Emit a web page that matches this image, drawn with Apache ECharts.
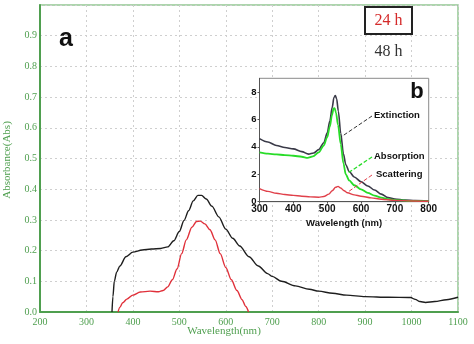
<!DOCTYPE html>
<html>
<head>
<meta charset="utf-8">
<script src="https://cdn.jsdelivr.net/npm/echarts@6/dist/echarts.min.js"></script>
<style>
  html, body { margin: 0; padding: 0; background: #fff; }
  #chart { width: 474px; height: 344px; }
</style>
</head>
<body>
<div id="chart"></div>
<script>
// Panel a: UV-Vis absorbance spectra (wavelength nm, absorbance)
const spectrum24h = [
  [368,0],[372,0.015],[378,0.03],[387,0.042],[400,0.055],[416,0.065],[437,0.068],[455,0.066],
  [465,0.07],[475,0.082],[485,0.105],[495,0.14],[505,0.19],[515,0.235],[527,0.276],[537,0.295],
  [545,0.296],[555,0.287],[566,0.268],[577,0.235],[588,0.19],[600,0.145],[612,0.105],[624,0.07],
  [635,0.04],[643,0.018],[649,0]
];
const spectrum48h = [
  [355,0],[357,0.05],[360,0.1],[365,0.13],[372,0.15],[385,0.18],[400,0.195],[420,0.202],
  [440,0.205],[460,0.207],[475,0.212],[488,0.232],[500,0.262],[510,0.298],[520,0.33],[530,0.362],
  [540,0.38],[548,0.38],[558,0.368],[570,0.345],[585,0.31],[600,0.27],[615,0.24],[630,0.215],
  [650,0.18],[670,0.15],[690,0.125],[700,0.116],[720,0.1],[750,0.085],[780,0.074],[800,0.068],
  [830,0.061],[860,0.055],[900,0.05],[950,0.048],[998,0.047],[1008,0.041],[1018,0.034],
  [1030,0.031],[1050,0.034],[1075,0.04],[1100,0.048]
];
// Panel b: calculated extinction / absorption / scattering spectra
const extinction = [
  [300,4.6],[325,4.35],[350,4.1],[375,3.95],[400,3.85],[425,3.65],[445,3.47],[460,3.55],
  [475,3.8],[490,4.3],[500,5.0],[508,5.9],[515,6.9],[520,7.6],[524,7.75],[528,7.5],[533,6.6],
  [540,5.0],[548,3.5],[555,2.7],[565,2.2],[580,1.8],[600,1.45],[620,1.15],[640,0.85],
  [660,0.55],[680,0.3],[700,0.2],[730,0.12],[760,0.08],[800,0.05]
];
const absorption = [
  [300,3.6],[325,3.5],[350,3.45],[375,3.4],[400,3.35],[425,3.28],[442,3.2],[458,3.3],
  [475,3.6],[490,4.1],[500,4.7],[508,5.5],[514,6.3],[519,6.8],[522,6.82],[526,6.5],[532,5.6],
  [540,4.2],[548,2.8],[555,2.0],[565,1.55],[580,1.2],[600,0.9],[620,0.65],[640,0.45],
  [660,0.3],[680,0.18],[700,0.12],[740,0.06],[800,0.03]
];
const scattering = [
  [300,0.95],[325,0.75],[350,0.62],[375,0.52],[400,0.46],[425,0.4],[450,0.35],[475,0.33],
  [490,0.38],[505,0.55],[515,0.8],[525,1.05],[532,1.12],[540,1.0],[550,0.8],[560,0.65],
  [580,0.5],[600,0.4],[630,0.28],[660,0.18],[700,0.1],[750,0.05],[800,0.03]
];
const legendLabels = ['24 h', '48 h'];
const insetNames = ['Extinction', 'Absorption', 'Scattering'];

const green = '#4f9f4f';
const serif = 'Liberation Serif';
const sans = 'Liberation Sans';

const chart = echarts.init(document.getElementById('chart'), null, { renderer: 'canvas' });

function line(name, data, color, width, xi, z) {
  return {
    type: 'line', name, data, xAxisIndex: xi, yAxisIndex: xi,
    showSymbol: false, smooth: 0.3, smoothMonotone: 'x', z,
    lineStyle: { color, width }, animation: false
  };
}

chart.setOption({
  animation: false,
  backgroundColor: '#fff',
  grid: [
    { left: 40, right: 16, top: 5, bottom: 32, show: true,
      borderColor: '#93c793', borderWidth: 1.5, backgroundColor: 'transparent' },
    { left: 259.5, right: 45.3, top: 78.3, bottom: 142.3, show: true, z: 3,
      borderColor: '#8a8a8a', borderWidth: 1, backgroundColor: '#fff' }
  ],
  xAxis: [
    { type: 'value', gridIndex: 0, min: 200, max: 1100, interval: 100,
      axisLine: { show: true, onZero: false, lineStyle: { color: green, width: 2 } },
      axisTick: { show: false },
      axisLabel: { color: green, fontFamily: serif, fontSize: 10, margin: 5,
        formatter: v => String(v) },
      splitLine: { show: true, lineStyle: { color: '#cfcfcf', type: [2, 3], width: 1 } } },
    { type: 'value', gridIndex: 1, min: 300, max: 800, interval: 100, z: 4,
      name: 'Wavelength (nm)', nameLocation: 'middle', nameGap: 17,
      nameTextStyle: { color: '#111', fontFamily: sans, fontWeight: 'bold', fontSize: 9.5 },
      axisLine: { show: true, onZero: false, lineStyle: { color: '#555', width: 1 } },
      axisTick: { show: true, length: 2, lineStyle: { color: '#555' } },
      axisLabel: { color: '#111', fontFamily: sans, fontWeight: 'bold', fontSize: 10, margin: 3 },
      splitLine: { show: false } }
  ],
  yAxis: [
    { type: 'value', gridIndex: 0, min: 0, max: 1, interval: 0.1,
      axisLine: { show: true, onZero: false, lineStyle: { color: green, width: 2 } },
      axisTick: { show: false },
      axisLabel: { color: green, fontFamily: serif, fontSize: 10, margin: 3, showMaxLabel: false,
        formatter: v => v.toFixed(1) },
      splitLine: { show: true, lineStyle: { color: '#cfcfcf', type: [2, 3], width: 1 } } },
    { type: 'value', gridIndex: 1, min: 0, max: 9, interval: 2, z: 4,
      axisLine: { show: true, onZero: false, lineStyle: { color: '#555', width: 1 } },
      axisTick: { show: true, length: 2, lineStyle: { color: '#555' } },
      axisLabel: { color: '#111', fontFamily: sans, fontWeight: 'bold', fontSize: 9.5, margin: 3,
        showMaxLabel: false },
      splitLine: { show: false } }
  ],
  series: [
    line(legendLabels[1], spectrum48h, '#1e1e1e', 1.4, 0, 2),
    line(legendLabels[0], spectrum24h, '#e0303a', 1.4, 0, 2),
    line(insetNames[0], extinction, '#3a3a48', 1.6, 1, 6),
    line(insetNames[1], absorption, '#28dc28', 1.8, 1, 6),
    line(insetNames[2], scattering, '#e0404a', 1.4, 1, 6)
  ],
  graphic: [
    // axis titles of panel a
    { type: 'text', x: 224, y: 331, z: 10,
      style: { text: 'Wavelength(nm)', fill: green, font: '11px "Liberation Serif"',
        align: 'center', verticalAlign: 'middle' } },
    { type: 'text', x: 7, y: 160, rotation: Math.PI / 2, z: 10,
      style: { text: 'Absorbance(Abs)', fill: green, font: '11px "Liberation Serif"',
        align: 'center', verticalAlign: 'middle' } },
    // panel letters
    { type: 'text', x: 66, y: 39, z: 10,
      style: { text: 'a', fill: '#111', font: 'bold 25px "Liberation Sans"',
        align: 'center', verticalAlign: 'middle' } },
    { type: 'text', x: 417, y: 92, z: 10,
      style: { text: 'b', fill: '#111', font: 'bold 22px "Liberation Sans"',
        align: 'center', verticalAlign: 'middle' } },
    // legend
    { type: 'rect', z: 10, shape: { x: 365, y: 7, width: 47, height: 27 },
      style: { fill: '#fff', stroke: '#222', lineWidth: 2 } },
    { type: 'text', x: 388.5, y: 21, z: 11,
      style: { text: legendLabels[0], fill: '#d42a2a', font: '16px "Liberation Serif"',
        align: 'center', verticalAlign: 'middle' } },
    { type: 'text', x: 388.5, y: 52, z: 11,
      style: { text: legendLabels[1], fill: '#333', font: '16px "Liberation Serif"',
        align: 'center', verticalAlign: 'middle' } },
    // inset annotations with leader lines
    { type: 'line', z: 10, shape: { x1: 372, y1: 116, x2: 341, y2: 137 },
      style: { stroke: '#333', lineWidth: 1, lineDash: [4, 2] } },
    { type: 'line', z: 10, shape: { x1: 372, y1: 157, x2: 348, y2: 173 },
      style: { stroke: '#28dc28', lineWidth: 1.3, lineDash: [4, 2] } },
    { type: 'line', z: 10, shape: { x1: 372, y1: 175, x2: 348, y2: 192 },
      style: { stroke: '#e0404a', lineWidth: 1, lineDash: [4, 2] } },
    { type: 'text', x: 374, y: 115, z: 10,
      style: { text: insetNames[0], fill: '#111', font: 'bold 9.5px "Liberation Sans"',
        align: 'left', verticalAlign: 'middle' } },
    { type: 'text', x: 374, y: 156, z: 10,
      style: { text: insetNames[1], fill: '#111', font: 'bold 9.5px "Liberation Sans"',
        align: 'left', verticalAlign: 'middle' } },
    { type: 'text', x: 376, y: 174, z: 10,
      style: { text: insetNames[2], fill: '#111', font: 'bold 9.5px "Liberation Sans"',
        align: 'left', verticalAlign: 'middle' } }
  ]
});
</script>
</body>
</html>
